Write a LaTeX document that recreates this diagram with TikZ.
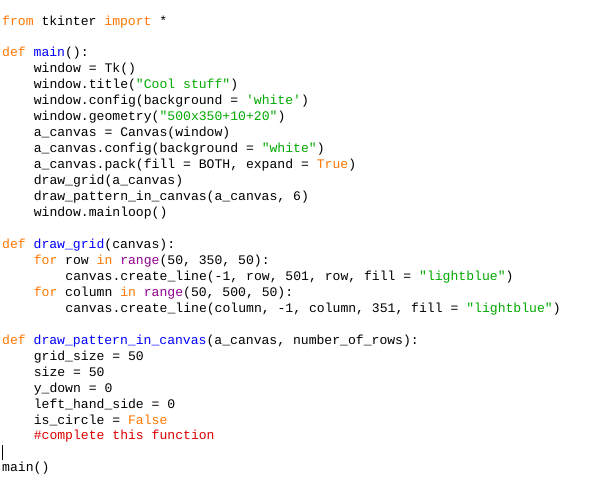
\documentclass[tikz,border=0pt]{standalone}
\usepackage{fontspec}
\setmonofont{Liberation Mono}
\usepackage{xcolor}
\definecolor{kwc}{HTML}{FF7700}
\definecolor{fnc}{HTML}{0000FF}
\definecolor{stc}{HTML}{00AA00}
\definecolor{bic}{HTML}{900090}
\definecolor{cmc}{HTML}{DD0000}
\newcommand{\kw}[1]{\textcolor{kwc}{#1}}
\newcommand{\fnn}[1]{\textcolor{fnc}{#1}}
\newcommand{\st}[1]{\textcolor{stc}{#1}}
\newcommand{\bi}[1]{\textcolor{bic}{#1}}
\newcommand{\cm}[1]{\textcolor{cmc}{#1}}
\newcommand{\I}{\hspace*{31.6pt}}
\newcommand{\II}{\hspace*{63.2pt}}
\begin{document}
\begin{tikzpicture}[x=1pt,y=-1pt,
  codeline/.style={anchor=base west,inner sep=0pt,font=\ttfamily\fontsize{13.1pt}{16pt}\selectfont}]
\useasboundingbox[fill=white] (0,0) rectangle (609,501);
\def\ln#1#2{\node[codeline] (l#1) at (2,{25+15.96*#1}) {#2};}
\ln{0}{\kw{from} tkinter \kw{import} *}
\ln{2}{\kw{def} \fnn{main}():}
\ln{3}{\I window = Tk()}
\ln{4}{\I window.title(\st{"Cool stuff"})}
\ln{5}{\I window.config(background = \st{'white'})}
\ln{6}{\I window.geometry(\st{"500x350+10+20"})}
\ln{7}{\I a\_canvas = Canvas(window)}
\ln{8}{\I a\_canvas.config(background = \st{"white"})}
\ln{9}{\I a\_canvas.pack(fill = BOTH, expand = \kw{True})}
\ln{10}{\I draw\_grid(a\_canvas)}
\ln{11}{\I draw\_pattern\_in\_canvas(a\_canvas, 6)}
\ln{12}{\I window.mainloop()}
\ln{14}{\kw{def} \fnn{draw\_grid}(canvas):}
\ln{15}{\I \kw{for} row \kw{in} \bi{range}(50, 350, 50):}
\ln{16}{\II canvas.create\_line(-1, row, 501, row, fill = \st{"lightblue"})}
\ln{17}{\I \kw{for} column \kw{in} \bi{range}(50, 500, 50):}
\ln{18}{\II canvas.create\_line(column, -1, column, 351, fill = \st{"lightblue"})}
\ln{20}{\kw{def} \fnn{draw\_pattern\_in\_canvas}(a\_canvas, number\_of\_rows):}
\ln{21}{\I grid\_size = 50}
\ln{22}{\I size = 50}
\ln{23}{\I y\_down = 0}
\ln{24}{\I left\_hand\_side = 0}
\ln{25}{\I is\_circle = \kw{False}}
\ln{26}{\I \cm{\#complete this function}}
\ln{28}{main()}
\coordinate (c1) at (2.5,445);
\coordinate (c2) at (2.5,460);
\draw[line width=1pt] (c1) -- (c2);
\end{tikzpicture}
\end{document}
